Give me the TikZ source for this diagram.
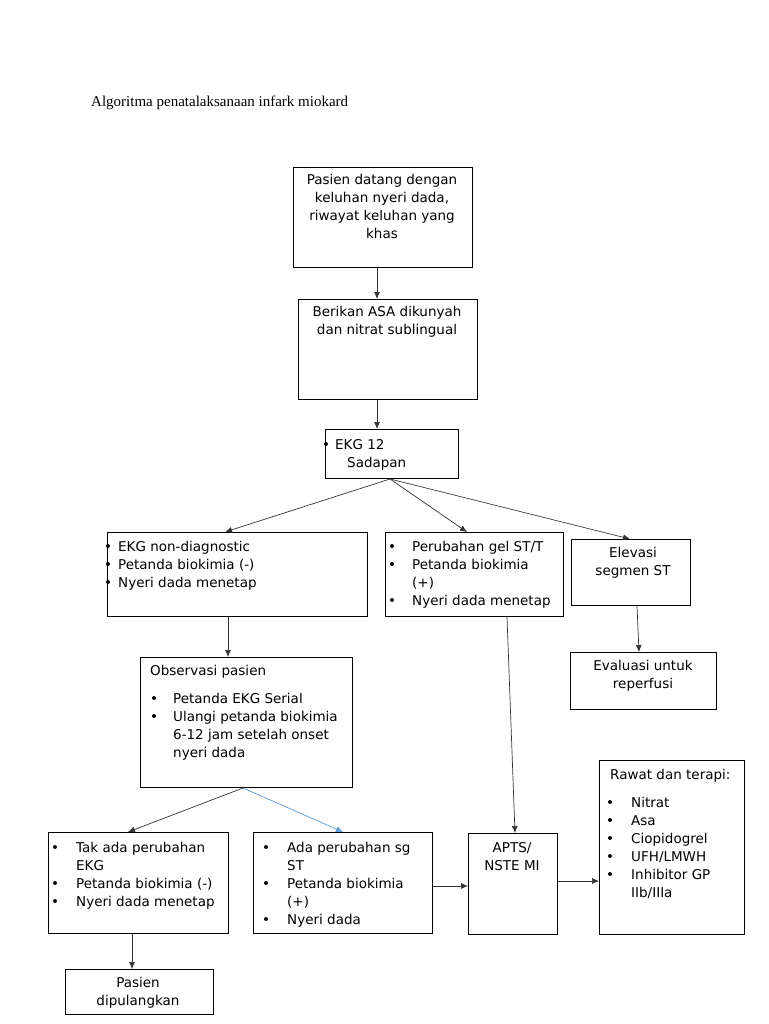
\documentclass[tikz,border=0pt]{standalone}
\usepackage{fontspec}
\setmainfont{DejaVu Sans}
\newfontfamily\titlefont{Liberation Serif}
\usetikzlibrary{arrows.meta,calc}
\newcommand\bul[1]{\makebox[#1][l]{•}}
\begin{document}
\begin{tikzpicture}[x=1pt,y=-1pt,
  box/.style={draw=black,line width=1pt,inner sep=0pt,anchor=north west},
  txt/.style={inner sep=0pt,font=\fontsize{13.5}{18}\selectfont},
  arr/.style={draw=black!80,line width=0.7pt,-{Latex[length=7pt,width=6pt]}},
  barr/.style={draw={rgb,255:red,91;green,155;blue,213},line width=0.7pt,-{Latex[length=7pt,width=6pt]}},
]
\useasboundingbox[fill=white] (0,0) rectangle (768,1024);

\node[inner sep=0pt,anchor=base west,font=\titlefont\fontsize{15}{18}\selectfont] (title) at (91,107) {Algoritma penatalaksanaan infark miokard};

% boxes
\node[box,minimum width=179pt,minimum height=100pt] (b1) at (293,167) {};
\node[box,minimum width=179pt,minimum height=100pt] (b2) at (298,299) {};
\node[box,minimum width=133pt,minimum height=49pt] (b3) at (325,429) {};
\node[box,minimum width=260pt,minimum height=84pt] (b4) at (107,532) {};
\node[box,minimum width=212pt,minimum height=130pt] (b5) at (140,657) {};
\node[box,minimum width=178pt,minimum height=84pt] (b6) at (385,532) {};
\node[box,minimum width=119pt,minimum height=66pt] (b7) at (571,539) {};
\node[box,minimum width=146pt,minimum height=57pt] (b8) at (570,652) {};
\node[box,minimum width=180pt,minimum height=101pt] (b9) at (48,832) {};
\node[box,minimum width=179pt,minimum height=101pt] (b10) at (253,832) {};
\node[box,minimum width=148pt,minimum height=45pt] (b11) at (65,969) {};
\node[box,minimum width=89pt,minimum height=101pt] (b12) at (468,833) {};
\node[box,minimum width=145pt,minimum height=174pt] (b13) at (599,760) {};

% texts
\node[txt,anchor=base] (t1) at (382,185) {\begin{tabular}[t]{@{}c@{}}Pasien datang dengan\\keluhan nyeri dada,\\riwayat keluhan yang\\khas\end{tabular}};
\node[txt,anchor=base] (t2) at (387,316) {\begin{tabular}[t]{@{}c@{}}Berikan ASA dikunyah\\dan nitrat sublingual\end{tabular}};
\node[txt,anchor=base west] (t3) at (322,449) {\begin{tabular}[t]{@{}l@{}}\bul{13pt}EKG 12\\\hspace*{25pt}Sadapan\end{tabular}};
\node[txt,anchor=base west] (t4) at (104,551) {\begin{tabular}[t]{@{}l@{}}\bul{14pt}EKG non-diagnostic\\\bul{14pt}Petanda biokimia (-)\\\bul{14pt}Nyeri dada menetap\end{tabular}};
\node[txt,anchor=base west] (t5) at (150,675) {\begin{tabular}[t]{@{}l@{}l@{}}\multicolumn{2}{@{}l@{}}{Observasi pasien}\\[10pt]\bul{23pt}&Petanda EKG Serial\\\bul{23pt}&Ulangi petanda biokimia\\&6-12 jam setelah onset\\&nyeri dada\end{tabular}};
\node[txt,anchor=base west] (t6) at (388,551) {\begin{tabular}[t]{@{}l@{}l@{}}\bul{24pt}&Perubahan gel ST/T\\\bul{24pt}&Petanda biokimia\\&(+)\\\bul{24pt}&Nyeri dada menetap\end{tabular}};
\node[txt,anchor=base] (t7) at (633,557) {\begin{tabular}[t]{@{}c@{}}Elevasi\\segmen ST\end{tabular}};
\node[txt,anchor=base] (t8) at (643,670) {\begin{tabular}[t]{@{}c@{}}Evaluasi untuk\\reperfusi\end{tabular}};
\node[txt,anchor=base west] (t9) at (51,852) {\begin{tabular}[t]{@{}l@{}l@{}}\bul{25pt}&Tak ada perubahan\\&EKG\\\bul{25pt}&Petanda biokimia (-)\\\bul{25pt}&Nyeri dada menetap\end{tabular}};
\node[txt,anchor=base west] (t10) at (262,852) {\begin{tabular}[t]{@{}l@{}l@{}}\bul{25pt}&Ada perubahan sg\\&ST\\\bul{25pt}&Petanda biokimia\\&(+)\\\bul{25pt}&Nyeri dada\end{tabular}};
\node[txt,anchor=base] (t11) at (138,987) {\begin{tabular}[t]{@{}c@{}}Pasien\\dipulangkan\end{tabular}};
\node[txt,anchor=base] (t12) at (512,852) {\begin{tabular}[t]{@{}c@{}}APTS/\\NSTE MI\end{tabular}};
\node[txt,anchor=base west] (t13) at (606,779) {\begin{tabular}[t]{@{}l@{}l@{}}\multicolumn{2}{@{}l@{}}{\hspace*{4pt}Rawat dan terapi:}\\[10pt]\bul{25pt}&Nitrat\\\bul{25pt}&Asa\\\bul{25pt}&Ciopidogrel\\\bul{25pt}&UFH/LMWH\\\bul{25pt}&Inhibitor GP\\&IIb/IIIa\end{tabular}};

% connectors
\draw[arr] ($(b1.south west)+(84,0)$) -- ($(b2.north west)+(79,0)$);
\draw[arr] ($(b2.south west)+(79,0)$) -- ($(b3.north west)+(52,0)$);
\draw[arr] ($(b3.south west)+(65,0)$) -- ($(b4.north west)+(118,0)$);
\draw[arr] ($(b3.south west)+(65,0)$) -- ($(b6.north west)+(82,0)$);
\draw[arr] ($(b3.south west)+(65,0)$) -- ($(b7.north west)+(59,0)$);
\draw[arr] ($(b4.south west)+(121,0)$) -- ($(b5.north west)+(88,0)$);
\draw[arr] ($(b7.south west)+(66,0)$) -- ($(b8.north west)+(69,0)$);
\draw[arr] ($(b5.south west)+(103,0)$) -- ($(b9.north west)+(80,0)$);
\draw[barr] ($(b5.south west)+(103,0)$) -- ($(b10.north west)+(90,0)$);
\draw[arr] ($(b6.south west)+(122,0)$) -- ($(b12.north west)+(47,0)$);
\draw[arr] ($(b9.south west)+(84,0)$) -- ($(b11.north west)+(67,0)$);
\draw[arr] ($(b10.north east)+(0,54)$) -- ($(b12.north west)+(0,53)$);
\draw[arr] ($(b12.north east)+(0,48)$) -- ($(b13.north west)+(0,121)$);
\end{tikzpicture}
\end{document}
